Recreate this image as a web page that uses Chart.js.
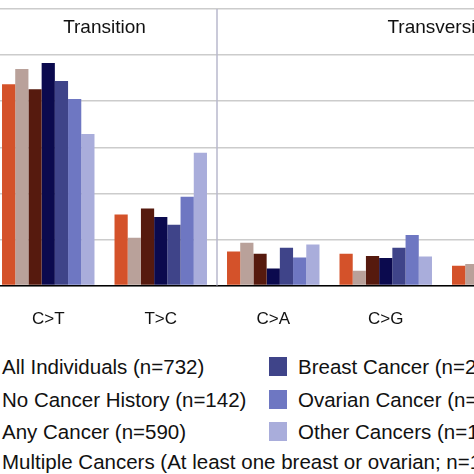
<!DOCTYPE html>
<html>
<head>
<meta charset="utf-8">
<script src="https://cdn.jsdelivr.net/npm/chart.js"></script>
<style>
  html, body { margin: 0; padding: 0; background: #fff; overflow: hidden; width: 474px; height: 474px; }
  body { position: relative; font-family: "Liberation Sans", Arial, sans-serif; color: #111; }
  #wrap { position: absolute; left: -8px; top: 0; width: 675px; height: 354px; }
  .leg { position: absolute; font-size: 20.5px; white-space: nowrap; line-height: 24px; }
  .leg i { position: absolute; width: 18px; height: 19px; left: -29px; top: 2px; }
</style>
</head>
<body>
<div id="wrap"><canvas id="c"></canvas></div>
<div id="legend"></div>
<script>
// mutation types, grouped under the header band
const categories = ['C>T', 'T>C', 'C>A', 'C>G', 'T>A', 'T>G'];
const groupNames = ['Transition', 'Transversion'];
const groupSpans = [[0, 1], [2, 5]];

// series (percent of mutations); null = outside the crop
const seriesNames = [
    'All Individuals (n=732)',
    'No Cancer History (n=142)',
    'Any Cancer (n=590)',
    'Multiple Cancers (At least one breast or ovarian; n=105)',
    'Breast Cancer (n=287)',
    'Ovarian Cancer (n=146)',
    'Other Cancers (n=152)'
];
const allIndividuals = [43.7, 15.4, 7.4, 6.9, 4.3, null];
const noCancerHistory = [47.0, 10.4, 9.3, 3.2, 4.7, null];
const anyCancer = [42.6, 16.7, 6.9, 6.4, null, null];
const multipleCancers = [48.3, 14.9, 3.7, 6.0, null, null];
const breastCancer = [44.4, 13.2, 8.2, 8.2, null, null];
const ovarianCancer = [40.5, 19.3, 6.1, 11.0, null, null];
const otherCancers = [32.9, 28.8, 8.9, 6.3, null, null];
const seriesColors = ['#d4522a', '#b9a19a', '#561a0e', '#0b0a4e', '#3f4489', '#6e77c2', '#a9addb'];

const yTicks = [0, 10, 20, 30, 40, 50, 60];

const seriesValues = [allIndividuals, noCancerHistory, anyCancer, multipleCancers,
    breastCancer, ovarianCancer, otherCancers];

// header band + divider between transition / transversion
const headerPlugin = {
    id: 'header',
    beforeDatasetsDraw(chart) {
        const { ctx, chartArea, scales } = chart;
        const x = scales.x, y = scales.y;
        ctx.save();
        // divider line
        const half = (x.getPixelForValue(1) - x.getPixelForValue(0)) / 2;
        const dx = x.getPixelForValue(groupSpans[0][1]) + half;
        ctx.strokeStyle = '#b9b9cc';
        ctx.lineWidth = 1.5;
        ctx.beginPath();
        ctx.moveTo(dx, chartArea.top);
        ctx.lineTo(dx, chartArea.bottom);
        ctx.stroke();
        // group titles
        const top = y.getPixelForValue(yTicks[yTicks.length - 1]);
        const below = y.getPixelForValue(yTicks[yTicks.length - 2]);
        ctx.fillStyle = '#111';
        ctx.font = '19px "Liberation Sans", Arial, sans-serif';
        ctx.textAlign = 'center';
        ctx.textBaseline = 'middle';
        groupNames.forEach((name, i) => {
            const cx = (x.getPixelForValue(groupSpans[i][0]) + x.getPixelForValue(groupSpans[i][1])) / 2;
            ctx.fillText(name, cx, (top + below) / 2 - 4);
        });
        ctx.restore();
    }
};

new Chart(document.getElementById('c'), {
    type: 'bar',
    data: {
        labels: categories,
        datasets: seriesNames.map((name, i) => ({
            label: name,
            data: seriesValues[i],
            backgroundColor: seriesColors[i],
            borderWidth: 0,
            barPercentage: 1,
            categoryPercentage: 0.822
        }))
    },
    options: {
        responsive: true,
        maintainAspectRatio: false,
        animation: false,
        layout: { padding: { top: 9, left: 0, right: 0, bottom: 0 } },
        plugins: { legend: { display: false }, tooltip: { enabled: false } },
        scales: {
            x: {
                grid: { display: false, drawTicks: false },
                border: { display: true, color: '#000', width: 1.5 },
                ticks: { color: '#111', padding: 24, font: { size: 17, family: '"Liberation Sans", Arial, sans-serif' } }
            },
            y: {
                min: 0,
                max: yTicks[yTicks.length - 1],
                afterBuildTicks(scale) { scale.ticks = yTicks.map(v => ({ value: v })); },
                ticks: { display: false },
                grid: { color: '#cccccc', lineWidth: 1.5, drawTicks: false },
                border: { display: false }
            }
        }
    },
    plugins: [headerPlugin]
});

// legend: two columns, last item of the left column spans the row
const legend = document.getElementById('legend');
const legendPos = [
    [2, 355], [2, 388], [2, 420], [2, 450],
    [298, 355], [298, 388], [298, 420]
];
seriesNames.forEach((name, i) => {
    const d = document.createElement('div');
    d.className = 'leg';
    d.style.left = legendPos[i][0] + 'px';
    d.style.top = legendPos[i][1] + 'px';
    d.innerHTML = `<i style="background:${seriesColors[i]}"></i>${name}`;
    legend.appendChild(d);
});
</script>
</body>
</html>
